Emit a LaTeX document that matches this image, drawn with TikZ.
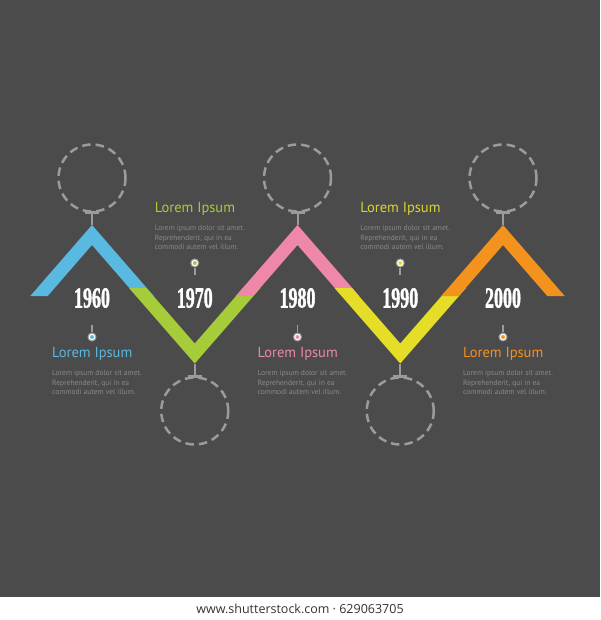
\documentclass[tikz,border=0pt]{standalone}
\usepackage{fontspec}
\setmainfont{PT Sans}
\newfontfamily\yearfont[FakeBold=2]{Liberation Serif Bold}
\newfontfamily\urlfont{Open Sans}
\definecolor{bg}{HTML}{4B4B4B}
\definecolor{lgray}{HTML}{9B9B9B}
\definecolor{bodygray}{HTML}{8A8A8A}
\definecolor{cblue}{HTML}{5AB9E0}
\definecolor{cgreen}{HTML}{A6CC3A}
\definecolor{cpink}{HTML}{EF87A8}
\definecolor{cyellow}{HTML}{E5DD27}
\definecolor{cyellowt}{HTML}{D8D530}
\definecolor{corange}{HTML}{F4921E}
\definecolor{urlgray}{HTML}{333333}
\begin{document}
\begin{tikzpicture}[x=1pt,y=-1pt,
  titletext/.style={anchor=base west, inner sep=0, font=\fontsize{14.5}{16}\selectfont},
  bodytext/.style={anchor=base west, inner sep=0, text=bodygray, font=\fontsize{7.5}{9}\selectfont},
  yeartext/.style={text=white, inner sep=0, font=\yearfont\fontsize{29}{30}\selectfont},
  dcircle/.style={draw=lgray, line width=2.5, dash pattern=on 8.5 off 5, circle, minimum size=67, inner sep=0},
  stemline/.style={draw=lgray, line width=2},
  dotring/.style={circle, inner sep=0, minimum size=5.4, draw=white, line width=1.1, preaction={draw=lgray, line width=3.4}},
  dotstem/.style={draw=lgray, line width=1.6}]
\useasboundingbox (0,0) rectangle (600,620);
\fill[bg] (0,0) rectangle (600,597);
\fill[white] (0,597) rectangle (600,620);

% zigzag band pieces
\fill[cblue] ({92-61.7},296) -- (92,225) -- ({92+61.7},296) -- ({92+44.3},296) -- (92,245) -- ({92-44.3},296) -- cycle;
\fill[cgreen] ({194.75-65.7},288) -- (194.75,363.5) -- ({194.75+65.7},288) -- ({194.75+48.3},288) -- (194.75,343.5) -- ({194.75-48.3},288) -- cycle;
\fill[cpink] ({297.5-61.7},296) -- (297.5,225) -- ({297.5+61.7},296) -- ({297.5+44.3},296) -- (297.5,245) -- ({297.5-44.3},296) -- cycle;
\fill[cyellow] ({400.25-65.7},288) -- (400.25,363.5) -- ({400.25+65.7},288) -- ({400.25+48.3},288) -- (400.25,343.5) -- ({400.25-48.3},288) -- cycle;
\fill[corange] ({503-61.7},296) -- (503,225) -- ({503+61.7},296) -- ({503+44.3},296) -- (503,245) -- ({503-44.3},296) -- cycle;

% apex points
\coordinate (t1) at (92,225);
\coordinate (t2) at (194.75,363.5);
\coordinate (t3) at (297.5,225);
\coordinate (t4) at (400.25,363.5);
\coordinate (t5) at (503,225);

% dashed circles
\node[dcircle] (c1) at (92,178) {};
\node[dcircle] (c2) at (194.75,411) {};
\node[dcircle] (c3) at (297.5,178) {};
\node[dcircle] (c4) at (400.25,411) {};
\node[dcircle] (c5) at (503,178) {};
\foreach \i/\s in {1/south,3/south,5/south,2/north,4/north}{
  \draw[stemline] (c\i.\s) -- (t\i);
  \draw[stemline, line width=2.5] ([xshift=-7]c\i.\s) -- ([xshift=7]c\i.\s);
}

% years
\node[yeartext] (y1) at (92,298) {\scalebox{0.62}[1]{1960}};
\node[yeartext] (y2) at (194.75,298) {\scalebox{0.62}[1]{1970}};
\node[yeartext] (y3) at (297.5,298) {\scalebox{0.62}[1]{1980}};
\node[yeartext] (y4) at (400.25,298) {\scalebox{0.62}[1]{1990}};
\node[yeartext] (y5) at (503,298) {\scalebox{0.62}[1]{2000}};

% small markers
\node[dotring, fill=cblue] (p1) at (92,337) {};
\node[dotring, fill=cgreen] (p2) at (194.75,263) {};
\node[dotring, fill=cpink] (p3) at (297.5,337) {};
\node[dotring, fill=cyellow] (p4) at (400.25,263) {};
\node[dotring, fill=corange] (p5) at (503,337) {};
\coordinate (q1) at (92,325);
\coordinate (q2) at (194.75,275);
\coordinate (q3) at (297.5,325);
\coordinate (q4) at (400.25,275);
\coordinate (q5) at (503,325);
\foreach \i/\s in {1/north,3/north,5/north,2/south,4/south}{
  \draw[dotstem] ([yshift={\i==2||\i==4 ? -2.2 : 2.2}]p\i.\s) -- (q\i);
}

% text blocks
\foreach \i/\a/\c/\ty in {1/92/cblue/357,2/194.75/cgreen/212,3/297.5/cpink/357,4/400.25/cyellowt/212,5/503/corange/357}{
  \node[titletext, text=\c] (h\i) at ({\a-40},\ty) {Lorem Ipsum};
  \node[bodytext] (ba\i) at ({\a-40},{\ty+18.5}) {Lorem ipsum dolor sit amet.};
  \node[bodytext] (bb\i) at ({\a-40},{\ty+28.2}) {Reprehenderit, qui in ea};
  \node[bodytext] (bc\i) at ({\a-40},{\ty+37.9}) {commodi autem vel illum.};
}

% footer
\node[text=urlgray, inner sep=0, font=\urlfont\fontsize{12.5}{14}\selectfont] (url) at (300,609) {www.shutterstock.com · 629063705};
\end{tikzpicture}
\end{document}
